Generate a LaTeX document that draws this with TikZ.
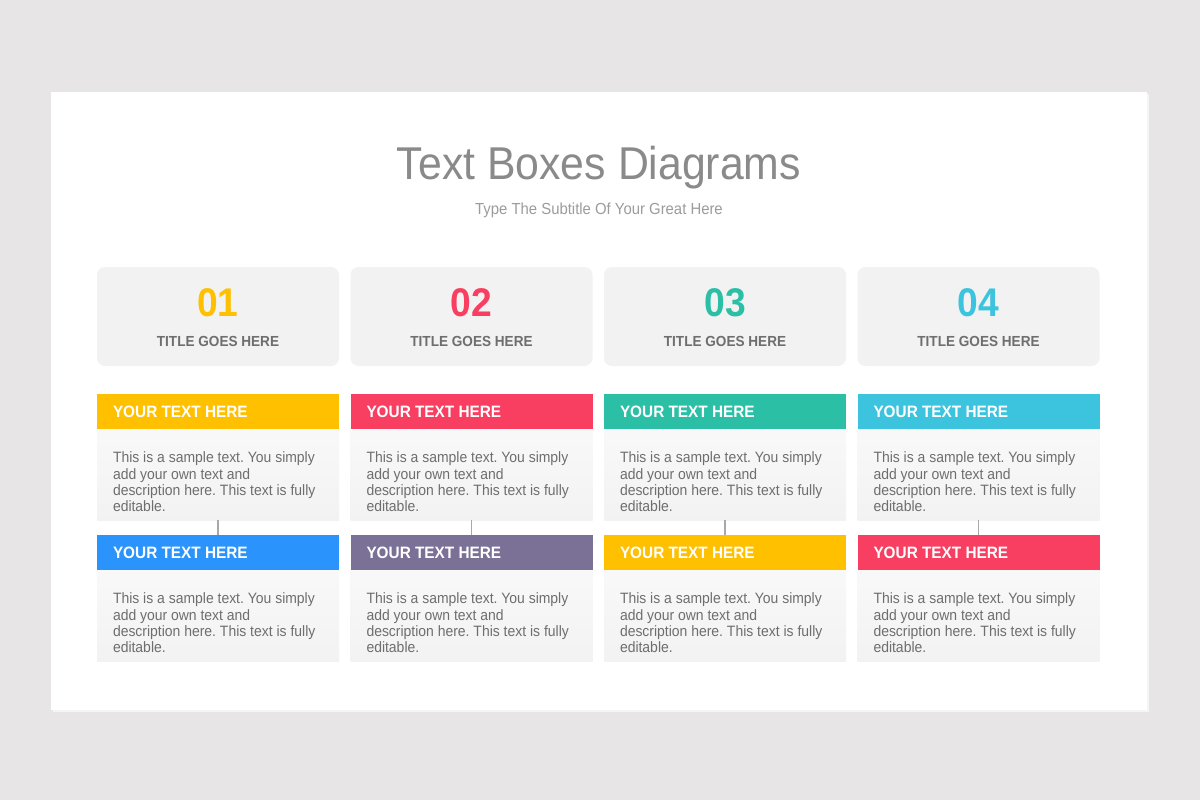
\documentclass[tikz,border=0pt]{standalone}
\usepackage{fontspec}
\setmainfont{Liberation Sans}[FakeStretch=0.93]
\usetikzlibrary{calc,positioning}

\definecolor{bgGray}{HTML}{E7E5E6}
\definecolor{boxGray}{HTML}{F2F2F2}
\definecolor{txtGray}{HTML}{6E6E6E}
\definecolor{titleGray}{HTML}{8A8A8A}
\definecolor{subGray}{HTML}{9C9C9C}
\definecolor{lineGray}{HTML}{A8A8A8}
\definecolor{cYellow}{HTML}{FFC000}
\definecolor{cRed}{HTML}{F83E61}
\definecolor{cTeal}{HTML}{2BBFA6}
\definecolor{cCyan}{HTML}{3CC4DF}
\definecolor{cBlue}{HTML}{2A93FC}
\definecolor{cPurple}{HTML}{7B7095}

\tikzset{
topbox/.style={rectangle, fill=boxGray, rounded corners=8pt, inner sep=0pt,
minimum width=242pt, minimum height=99pt},
numtext/.style={inner sep=0pt, font=\fontsize{40}{44}\selectfont\bfseries},
titletext/.style={inner sep=0pt, text=txtGray, font=\fontsize{14.6}{18}\selectfont\bfseries},
headbar/.style={rectangle, anchor=north, inner sep=0pt, minimum width=242pt, minimum height=34.5pt},
headtext/.style={anchor=west, inner sep=0pt, text=white, font=\fontsize{16.5}{19}\selectfont\bfseries},
bodybox/.style={rectangle, anchor=north, inner sep=0pt, minimum width=242pt, minimum height=91pt,
top color=black!2.5, bottom color=black!5},
bodytext/.style={anchor=north west, inner sep=0pt, align=left, text=txtGray,
font=\fontsize{15}{16.3}\selectfont\frenchspacing},
conn/.style={draw=lineGray, line width=1.2pt}
}

\newcommand\drawTopBox[4]{%
\node[topbox] (#2) at (#1,316.5) {};
\node[numtext, text=#4] (#2num) at (#1,302.5) {#3};
\node[titletext] (#2tit) at (#1,341) {TITLE GOES HERE};
}
\newcommand\drawTextBlock[4]{%
\node[headbar, fill=#4] (#3h) at (#1,#2) {};
\node[headtext] (#3ht) at ($(#3h.west)+(16,0)$) {YOUR TEXT HERE};
\node[bodybox] (#3b) at (#3h.south) {};
\node[bodytext] (#3bt) at ($(#3b.north west)+(16,23)$) {This is a sample text. You simply\\add your own text and\\description here. This text is fully\\editable.};
}
\newcommand\drawColumn[4]{%
\drawTextBlock{#1}{394}{#2up}{#3}
\drawTextBlock{#1}{535}{#2dn}{#4}
\draw[conn] (#2upb.south) -- (#2dnh.north);
}

\begin{document}
\begin{tikzpicture}[x=1pt,y=-1pt]
% background and card
\fill[bgGray] (0,0) rectangle (1200,800);
\useasboundingbox (0,0) rectangle (1200,800);
\fill[black!4] (53,94) rectangle (1149,712);
\fill[white] (51,92) rectangle (1147,710);

% drawing title
\node[inner sep=0pt, text=titleGray, font=\fontsize{46}{50}\selectfont] (title) at (599,167.5) {Text Boxes Diagrams};
\node[inner sep=0pt, text=subGray, font=\fontsize{16}{19}\selectfont] (subtitle) at (599,210) {Type The Subtitle Of Your Great Here};

% drawing top boxes
\drawTopBox{218}{tb1}{01}{cYellow}
\drawTopBox{471.5}{tb2}{02}{cRed}
\drawTopBox{725}{tb3}{03}{cTeal}
\drawTopBox{978.5}{tb4}{04}{cCyan}

% drawing text blocks
\drawColumn{218}{c1}{cYellow}{cBlue}
\drawColumn{471.5}{c2}{cRed}{cPurple}
\drawColumn{725}{c3}{cTeal}{cYellow}
\drawColumn{978.5}{c4}{cCyan}{cRed}
\end{tikzpicture}
\end{document}
